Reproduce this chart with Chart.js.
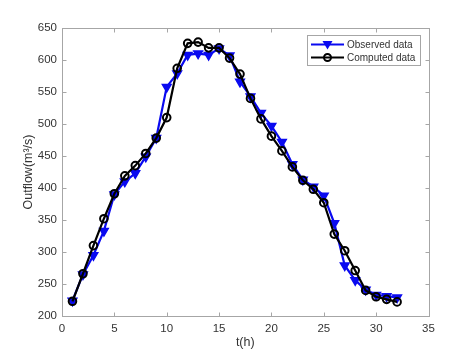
<!DOCTYPE html>
<html>
<head>
<meta charset="utf-8">
<script src="https://cdn.jsdelivr.net/npm/chart.js@4/dist/chart.umd.min.js"></script>
<style>
  html, body { margin: 0; padding: 0; background: #fff; }
  #wrap { width: 474px; height: 355px; position: relative; }
</style>
</head>
<body>
<div id="wrap"><canvas id="c" width="474" height="355"></canvas></div>
<script>
// ---- data ----
const hours = [1,2,3,4,5,6,7,8,9,10,11,12,13,14,15,16,17,18,19,20,21,22,23,24,25,26,27,28,29,30,31,32];
const observed = [224,265,295,333,390,410,423,449,478,558,579,608,610,608,618,607,566,543,517,497,472,437,413,402,388,345,279,256,241,233,231,229];
const computed = [223,266,310,352,391,419,435,454,478,510,587,626,628,619,619,603,578,540,508,481,458,433,412,398,377,328,302,271,240,230,226,222];
const xTicks = [0,5,10,15,20,25,30,35];
const yTicks = [200,250,300,350,400,450,500,550,600,650];
const seriesNames = ['Observed data', 'Computed data'];
const xTitle = 't(h)';
const yTitle = 'Outflow(m\u00B3/s)';

const BLUE = '#0a0af0';
const BLACK = '#000000';
const FRAME = '#a6a6a6';
const TEXT = '#333333';
const FONT = '"Liberation Sans", Arial, sans-serif';

const toPts = (ys) => hours.map((h, i) => ({ x: h, y: ys[i] }));

const framePlugin = {
  id: 'frame',
  afterDatasetsDraw(chart) {
    const { ctx, chartArea: a, scales: { x, y } } = chart;
    ctx.save();
    ctx.strokeStyle = FRAME;
    ctx.lineWidth = 1;
    const L = Math.round(a.left) + 0.5, R = Math.round(a.right) + 0.5;
    const T = Math.round(a.top) + 0.5, B = Math.round(a.bottom) + 0.5;
    ctx.strokeRect(L, T, R - L, B - T);
    const tl = 4;
    ctx.beginPath();
    xTicks.forEach(v => {
      const px = Math.round(x.getPixelForValue(v)) + 0.5;
      ctx.moveTo(px, B); ctx.lineTo(px, B - tl);
      ctx.moveTo(px, T); ctx.lineTo(px, T + tl);
    });
    yTicks.forEach(v => {
      const py = Math.round(y.getPixelForValue(v)) + 0.5;
      ctx.moveTo(L, py); ctx.lineTo(L + tl, py);
      ctx.moveTo(R, py); ctx.lineTo(R - tl, py);
    });
    ctx.stroke();

    // legend box
    const bx = 307.5, by = 35.5, bw = 113, bh = 30;
    ctx.fillStyle = '#ffffff';
    ctx.fillRect(bx, by, bw, bh);
    ctx.strokeStyle = FRAME;
    ctx.strokeRect(bx, by, bw, bh);
    const rows = [
      { name: seriesNames[0], color: BLUE, y: 44.5, marker: 'tri' },
      { name: seriesNames[1], color: BLACK, y: 57.5, marker: 'circ' }
    ];
    rows.forEach(r => {
      ctx.strokeStyle = r.color;
      ctx.lineWidth = 2.2;
      ctx.beginPath();
      ctx.moveTo(311, r.y); ctx.lineTo(344, r.y);
      ctx.stroke();
      const cx = 327.5;
      if (r.marker === 'tri') {
        ctx.fillStyle = r.color;
        ctx.beginPath();
        ctx.moveTo(cx - 5, r.y - 3.5);
        ctx.lineTo(cx + 5, r.y - 3.5);
        ctx.lineTo(cx, r.y + 5);
        ctx.closePath();
        ctx.fill();
      } else {
        ctx.lineWidth = 2;
        ctx.beginPath();
        ctx.arc(cx, r.y, 3.5, 0, Math.PI * 2);
        ctx.stroke();
      }
      ctx.fillStyle = TEXT;
      ctx.font = '10px ' + FONT;
      ctx.textBaseline = 'middle';
      ctx.textAlign = 'left';
      ctx.fillText(r.name, 347, r.y + 0.5);
    });
    ctx.restore();
  }
};

new Chart(document.getElementById('c'), {
  type: 'line',
  data: {
    datasets: [
      {
        label: seriesNames[0],
        data: toPts(observed),
        borderColor: BLUE,
        backgroundColor: BLUE,
        borderWidth: 2.2,
        pointStyle: 'triangle',
        rotation: 180,
        pointRadius: 5,
        pointBorderWidth: 1.5,
        pointBackgroundColor: BLUE,
        pointBorderColor: BLUE,
        tension: 0,
        order: 2
      },
      {
        label: seriesNames[1],
        data: toPts(computed),
        borderColor: BLACK,
        backgroundColor: 'rgba(0,0,0,0)',
        borderWidth: 2.2,
        pointStyle: 'circle',
        pointRadius: 3.8,
        pointBorderWidth: 2,
        pointBackgroundColor: 'rgba(0,0,0,0)',
        pointBorderColor: BLACK,
        tension: 0,
        order: 1
      }
    ]
  },
  options: {
    responsive: false,
    animation: false,
    events: [],
    layout: { padding: { left: 0, top: 28, right: 45.5, bottom: 0 } },
    plugins: { legend: { display: false }, tooltip: { enabled: false } },
    scales: {
      x: {
        type: 'linear',
        min: 0, max: 35,
        afterBuildTicks: (s) => { s.ticks = xTicks.map(v => ({ value: v })); },
        afterFit: (s) => { s.height = 39; },
        grid: { display: false, drawTicks: false },
        border: { display: false },
        ticks: { color: TEXT, font: { family: FONT, size: 11.5 }, padding: 6, maxRotation: 0 },
        title: { display: true, text: xTitle, color: TEXT, font: { family: FONT, size: 12.5 }, padding: { top: 0, bottom: 4.5 } }
      },
      y: {
        type: 'linear',
        min: 200, max: 650,
        afterBuildTicks: (s) => { s.ticks = yTicks.map(v => ({ value: v })); },
        afterFit: (s) => { s.width = 62; },
        grid: { display: false, drawTicks: false },
        border: { display: false },
        ticks: { color: TEXT, font: { family: FONT, size: 11.5 }, padding: 5 },
        title: { display: true, text: yTitle, color: TEXT, font: { family: FONT, size: 12.5 }, padding: { top: 21, bottom: 0 } }
      }
    }
  },
  plugins: [framePlugin]
});
</script>
</body>
</html>
